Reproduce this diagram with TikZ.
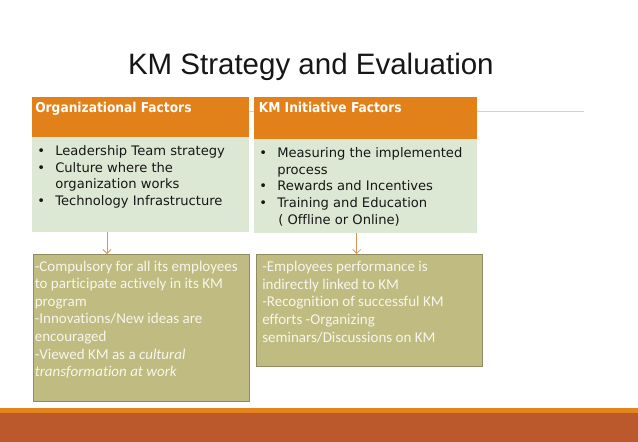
\documentclass[tikz,border=0pt]{standalone}
\usepackage{fontspec}
\usetikzlibrary{arrows.meta}
\setmainfont{Liberation Sans}
\newfontfamily\titlefont{Liberation Sans}
\newfontfamily\headfont[Ligatures=NoCommon]{DejaVu Sans Condensed Bold}
\newfontfamily\bodyfont[Ligatures=NoCommon]{DejaVu Sans}
\newfontfamily\olivefont[Ligatures=NoCommon]{Carlito}
\definecolor{hdrorange}{HTML}{E2801A}
\definecolor{bodygreen}{HTML}{DCE8D3}
\definecolor{olivefill}{HTML}{BFBB81}
\definecolor{olivedraw}{HTML}{8F8C62}
\definecolor{rust}{HTML}{BB592C}
\definecolor{stripe}{HTML}{E4841D}
\definecolor{arrowcol}{HTML}{DC9352}
\definecolor{linegray}{HTML}{D0D0D0}
\definecolor{oltext}{HTML}{F8F6EC}
\definecolor{darktext}{HTML}{161616}
\newcommand{\bitem}[1]{\par\noindent\hangindent=18pt\hangafter=1\makebox[18pt][l]{•}#1}
\tikzset{
  boxbase/.style={rectangle, anchor=north west, inner sep=0pt, outer sep=0pt},
  hdrbox/.style={boxbase, fill=hdrorange},
  greenbox/.style={boxbase, fill=bodygreen},
  olivebox/.style={boxbase, fill=olivefill, draw=olivedraw, line width=0.7pt},
  txt/.style={anchor=base west, inner sep=0pt, outer sep=0pt},
  hdrtxt/.style={txt, text=white, font=\headfont\fontsize{13.6}{16}\selectfont},
  bultxt/.style={txt, text=darktext, font=\bodyfont\fontsize{13}{16.7}\selectfont},
  oltxt/.style={txt, text=oltext, font=\olivefont\fontsize{15}{17.6}\selectfont},
  flowarrow/.style={draw=arrowcol, line width=0.8pt, -{Straight Barb[length=4pt,width=8pt]}}
}
\begin{document}
\begin{tikzpicture}[x=1pt,y=-1pt]
\useasboundingbox (0,0) rectangle (638,442);
\fill[white] (0,0) rectangle (638,442);
% bottom band
\fill[stripe] (0,407.7) rectangle (638,412.9);
\fill[rust] (0,412.9) rectangle (638,442);
% title
\node[txt, text=darktext, font=\titlefont\fontsize{29.5}{34}\selectfont] (title) at (128,74.3) {KM Strategy and Evaluation};
% thin gray rule
\coordinate (ruleA) at (40,111.5);
\coordinate (ruleB) at (584,111.5);
\draw[linegray, line width=0.8pt] (ruleA) -- (ruleB);
% left column boxes
\node[hdrbox, minimum width=217.3pt, minimum height=40.5pt] (hL) at (31.7,96.7) {};
\node[greenbox, minimum width=217.3pt, minimum height=94.5pt] (bL) at (31.7,137.2) {};
% right column boxes
\node[hdrbox, minimum width=222.7pt, minimum height=42.3pt] (hR) at (254,96.7) {};
\node[greenbox, minimum width=222.7pt, minimum height=94pt] (bR) at (254,139) {};
% olive boxes
\node[olivebox, minimum width=216pt, minimum height=147.7pt] (oL) at (33,254) {};
\node[olivebox, minimum width=226.7pt, minimum height=112pt] (oR) at (256,254) {};
% header texts
\node[hdrtxt] (thL) at (35.3,112.3) {Organizational Factors};
\node[hdrtxt] (thR) at (258.8,112.3) {KM Initiative Factors};
% bullet texts
\node[bultxt] (tbL) at (37.3,155.7) {\parbox[t]{205pt}{\fontsize{13.1}{16.6}\selectfont
  \bitem{Leadership Team strategy}
  \bitem{Culture where the\newline organization works}
  \bitem{Technology Infrastructure}}};
\node[bultxt] (tbR) at (259.3,157.3) {\parbox[t]{212pt}{\fontsize{13.1}{16.8}\selectfont
  \bitem{Measuring the implemented\newline process}
  \bitem{Rewards and Incentives}
  \bitem{Training and Education\newline \hspace*{1pt}( Offline or Online)}}};
% olive texts
\node[oltxt] (toL) at (34.8,271) {\parbox[t]{212pt}{\fontsize{15}{17.6}\selectfont\raggedright
  -Compulsory for all its employees\\
  to participate actively in its KM\\
  program\\
  -Innovations/New ideas are\\
  encouraged\\
  -Viewed KM as a \textit{cultural}\\
  \textit{transformation at work}}};
\node[oltxt] (toR) at (262.3,271.7) {\parbox[t]{218pt}{\fontsize{15}{17.6}\selectfont\raggedright
  -Employees performance is\\
  indirectly linked to KM\\
  -Recognition of successful KM\\
  efforts -Organizing\\
  seminars/Discussions on KM}};
% arrows
\coordinate (axL) at (107,0);
\coordinate (axR) at (356.7,0);
\draw[flowarrow] (bL.south -| axL) -- (oL.north -| axL);
\draw[flowarrow] (bR.south -| axR) -- (oR.north -| axR);
\end{tikzpicture}
\end{document}
